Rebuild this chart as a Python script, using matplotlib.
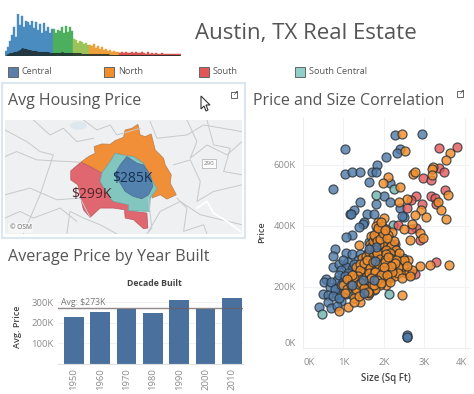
import matplotlib
matplotlib.use('Agg')
import matplotlib.pyplot as plt
from matplotlib.patches import Polygon, Rectangle, Ellipse
from matplotlib.transforms import ScaledTranslation

W, H = 474, 394
plt.rcParams['font.family'] = ['Open Sans', 'DejaVu Sans']

# colours
BLUE = '#4e79a7'
ORANGE = '#f28e2b'
RED = '#e15759'
TEAL = '#76b7b2'
GREY = '#555555'
TICK = '#8c8c8c'

# histogram on top (height of each bin, one colour per group)
hist_blue = [4, 8, 14, 20, 28, 18, 41, 30, 39, 28, 34, 33, 30, 34, 27, 33, 25, 31, 22, 32, 24, 28, 22, 26]
hist_green = [26, 22, 25, 24, 28, 22, 29, 23, 28, 24]
hist_lime = [16, 15, 12, 14, 13, 11, 12, 10]
hist_orange = [10, 9, 11, 7, 9, 6, 8, 5, 6, 4, 5, 3, 4, 3, 3]
hist_red = [2, 3, 2, 3, 2, 2, 3, 2, 3, 2, 2, 3, 2, 1, 3, 1, 2, 1, 2, 1, 1, 2, 1, 1, 1, 1, 1, 1, 1, 1, 1]
hist_dark = [1, 2, 3, 3, 4, 4, 5, 6, 8, 7, 7, 6, 6, 5, 5, 5, 4, 4, 4, 4, 4, 4, 3, 3,
             3, 3, 3, 3, 4, 3, 3, 3, 3, 3, 3, 3, 3, 3, 2, 2, 2, 2, 2, 2, 2, 2, 2, 2,
             2, 2, 2, 2, 1, 1, 1, 1, 1, 1, 1, 1, 1, 1, 1, 1, 1, 1, 1, 1, 1, 1, 1, 1,
             1, 1, 1, 1, 1, 1, 1, 1, 1, 1, 1, 1, 1, 1, 1, 1]

legend_names = ['Central', 'North', 'South', 'South Central']
legend_colors = ['#5b7fa8', '#f28e2b', '#e15759', '#8fcfc8']

# bars
decades = ['1950', '1960', '1970', '1980', '1990', '2000', '2010']
avg_price = [228, 251, 267, 248, 313, 267, 321]
avg_all = 273

# scatter, size in K sq ft and price in K
blue_x = [2.28, 2.94, 1.03, 2.41, 2.32, 2.05, 1.84, 1.03, 1.20, 1.41, 1.71, 1.81, 1.62, 0.74, 2.14, 2.0, 1.81, 2.15, 1.41,
          1.27, 1.15, 1.19, 1.59, 1.75, 2.39, 1.51, 1.48, 1.38, 2.51, 1.21, 1.06, 0.78, 1.07, 0.74, 1.2, 1.4, 0.74, 0.89,
          1.11, 1.07, 1.2, 1.36, 0.95, 1.11, 0.56, 0.51, 0.66, 0.84, 1.03, 0.92, 0.49, 0.62, 0.62, 0.84, 1.07, 0.95, 0.4, 0.7, 0.84,
          0.9, 0.98, 1.05, 0.7, 0.8, 0.95, 1.15, 0.75, 0.9, 1.0, 1.25, 1.3]
blue_y = [698, 700, 651, 652, 640, 626, 600, 570, 576, 576, 576, 576, 545, 521, 542, 498, 473, 480, 478,
          451, 440, 440, 440, 438, 460, 412, 408, 397, 431, 370, 363, 326, 313, 300, 307, 309, 266, 276,
          282, 266, 260, 287, 255, 246, 227, 216, 200, 222, 195, 189, 176, 173, 151, 173, 178, 154, 134, 132, 137,
          240, 215, 235, 215, 195, 205, 185, 170, 165, 290, 275, 250]
blue_top_x = [1.48, 1.5, 1.22, 1.77, 1.76, 1.81, 1.63, 2.58, 2.58, 2.45]
blue_top_y = [222, 181, 205, 285, 222, 331, 326, 42, 36, 432]
orange_x = [2.46, 2.53, 3.64, 3.54, 3.22, 3.18, 3.2, 2.72, 2.78, 2.11, 1.98, 2.41, 3.59, 3.35, 3.42, 3.53, 2.56, 2.37, 2.91,
            3.03, 2.78, 2.0, 1.85, 1.8, 1.91, 2.06, 2.2, 2.51, 2.7, 2.89, 2.98, 2.64, 1.67, 1.94, 1.38,
            1.65, 1.75, 1.85, 1.95, 2.05, 2.15, 2.25, 1.6, 1.7, 1.8, 1.9, 2.0, 2.1, 2.2, 2.35, 1.45, 1.55, 1.65, 1.75, 1.85,
            1.95, 2.05, 2.2, 2.3, 1.3, 1.4, 1.5, 1.6, 1.7, 1.9, 2.1, 2.25, 2.4, 1.15, 1.25, 1.35, 1.45, 1.55, 1.65, 1.8,
            1.95, 2.15, 2.6, 2.9, 3.15, 3.6, 2.45, 2.65, 2.55, 1.0, 1.1, 1.2, 1.3, 1.45, 1.6, 1.75, 1.4, 1.25, 1.12, 0.9, 1.25,
            1.55, 1.62, 1.68, 1.72, 1.78, 1.82, 1.88, 1.95, 1.98, 2.02, 2.1, 2.12, 2.18, 2.25, 2.3, 2.28, 2.38, 2.42, 2.48, 2.5,
            2.35, 2.2, 2.1, 2.0, 1.92, 1.85, 1.8, 1.72, 1.68, 1.6, 1.55, 1.5, 1.42, 1.35, 1.28, 1.2, 1.1, 1.05, 1.18, 1.3,
            1.38, 1.45, 1.52, 1.6, 1.68, 1.75, 1.85, 1.92, 2.0, 2.08, 2.18, 2.28, 2.35, 2.05, 1.9, 1.78, 1.62, 1.5, 1.38, 2.45,
            2.62, 2.7, 2.58, 2.65, 1.95, 2.05, 2.15, 1.88, 1.78, 1.65,
            1.5, 1.58, 1.66, 1.74, 1.82, 1.9, 1.98, 2.06, 2.14, 2.22, 2.3, 1.55, 1.63, 1.71, 1.79, 1.87, 1.95, 2.03, 2.11, 2.19, 2.27,
            1.62, 1.7, 1.78, 1.86, 1.94, 2.02, 2.1, 2.18, 1.75, 1.83, 1.91, 1.99, 2.07, 1.86, 1.94, 2.02,
            1.44, 1.52, 1.6, 1.68, 1.76, 1.84, 1.92, 2.0, 2.08, 2.16]
orange_y = [700, 647, 638, 615, 595, 587, 567, 570, 576, 562, 540, 527, 500, 478, 452, 423, 489, 478, 452,
            431, 436, 425, 414, 401, 392, 390, 381, 390, 405, 376, 362, 354, 368, 357, 338,
            340, 345, 335, 350, 325, 340, 330, 310, 318, 305, 325, 310, 300, 315, 295, 295, 285, 295, 280, 300,
            285, 270, 290, 270, 265, 275, 260, 270, 250, 265, 245, 260, 250, 225, 240, 230, 250, 220, 235, 215,
            235, 230, 290, 270, 272, 272, 175, 240, 245, 205, 195, 215, 180, 200, 175, 190, 150, 165, 135, 120, 150,
            300, 315, 330, 350, 365, 385, 375, 400, 365, 345, 370, 345, 335, 350, 320, 300, 310, 285, 270, 290,
            265, 255, 275, 295, 310, 285, 265, 300, 270, 255, 265, 245, 255, 235, 225, 240, 225, 180, 205, 195,
            210, 225, 205, 195, 215, 235, 245, 225, 250, 225, 235, 235, 245, 205, 205, 195, 180, 188, 172, 230,
            250, 255, 270, 235, 340, 320, 310, 340, 320, 290,
            278, 288, 262, 282, 312, 292, 278, 308, 296, 282, 290, 232, 245, 228, 252, 272, 258, 288, 262, 248, 278,
            222, 205, 248, 228, 238, 282, 298, 268, 372, 352, 358, 378, 362, 395, 412, 388,
            212, 198, 185, 228, 205, 222, 212, 265, 238, 218]
red_x = [3.37, 3.81, 2.97, 3.16, 3.36, 3.48, 3.5, 3.17, 3.26, 3.3, 2.79, 2.66, 2.94, 2.56, 2.8, 2.35, 2.66, 2.89, 3.3, 2.78, 2.27]
red_y = [655, 660, 558, 551, 589, 578, 518, 499, 493, 471, 499, 485, 472, 460, 392, 403, 390, 354, 282, 241, 342]
teal_x = [1.81, 2.24, 2.12, 0.46, 2.58, 1.63, 2.47, 1.2, 2.23]
teal_y = [500, 521, 177, 113, 35, 348, 296, 178, 403]

# map outlines, in map units
orange_shape_x = [242, 265, 285, 282, 305, 330, 345, 370, 375, 395, 413, 420, 435, 453, 465, 490, 495, 513, 510, 528, 500, 480, 455, 465, 450, 430, 400, 345, 330, 305, 270]
orange_shape_y = [232, 215, 205, 185, 177, 178, 167, 157, 135, 130, 118, 150, 155, 147, 195, 220, 240, 270, 295, 330, 343, 330, 340, 310, 275, 235, 215, 205, 230, 265, 245]
red_shape_x = [242, 270, 305, 300, 330, 340, 385, 385, 440, 443, 430, 400, 375, 373, 340, 300, 270, 250, 233, 212, 212]
red_shape_y = [232, 245, 265, 290, 340, 350, 360, 378, 385, 430, 432, 405, 400, 375, 370, 370, 398, 375, 300, 285, 258]
teal_shape_x = [345, 370, 400, 430, 450, 470, 450, 448, 385, 385, 340, 330, 300, 305, 330]
teal_shape_y = [205, 212, 215, 235, 275, 312, 340, 380, 378, 360, 350, 340, 290, 265, 230]
blue_shape_x = [360, 380, 395, 410, 430, 450, 458, 445, 425, 400, 375, 360, 343]
blue_shape_y = [240, 215, 225, 235, 240, 270, 305, 330, 342, 335, 320, 295, 270]
map_roads = [
    ([15, 80, 120, 160, 120, 70], [135, 170, 200, 210, 330, 448]),
    ([450, 470, 560, 610, 725], [110, 160, 150, 120, 140]),
    ([520, 570, 600, 590, 640, 725], [240, 225, 290, 350, 320, 300]),
    ([15, 90, 170, 240, 270], [330, 310, 345, 340, 398]),
    ([445, 480, 540, 600, 725], [440, 380, 350, 390, 420]),
    ([15, 50, 110, 240], [215, 200, 225, 232]),
    ([200, 210, 250, 300, 350], [448, 380, 400, 420, 448]),
    ([560, 590, 570, 620, 680, 725], [105, 170, 220, 180, 210, 170]),
    ([250, 290, 330, 350, 420], [105, 135, 120, 150, 130]),
    ([15, 60, 100, 180, 230], [400, 380, 400, 370, 410]),
    ([620, 640, 690, 670, 725], [105, 180, 190, 260, 270]),
    ([530, 560, 550, 610, 620], [340, 370, 440, 420, 448]),
    ([100, 150, 190, 230, 280], [105, 150, 130, 170, 160]),
    ([445, 450, 455, 440], [340, 390, 430, 448]),
]
river_x = [590, 620, 640, 680, 720]
river_y = [370, 350, 385, 410, 440]


def px_axes(x0, y0, x1, y1):
    return fig.add_axes([x0 / W, 1 - y1 / H, (x1 - x0) / W, (y1 - y0) / H])


def px_text(x, y, s, **kw):
    kw.setdefault('va', 'center')
    return fig.text(x / W, 1 - y / H, s, **kw)


fig = plt.figure(figsize=(W / 100, H / 100), dpi=100, facecolor='white')

# --- histogram
ax = px_axes(5, 14, 181, 55.5)
groups = [(hist_blue, '#4a8cc0'), (hist_green, '#4caf5e'), (hist_lime, '#9cc25a'), (hist_orange, '#eda13c'), (hist_red, '#d9534f')]
i = 0
for vals, col in groups:
    ax.bar(range(i, i + len(vals)), vals, width=1.0, color=col, edgecolor=col, lw=0.3, align='edge')
    i += len(vals)
ax.fill_between([k + 0.5 for k in range(len(hist_dark))], hist_dark, color='#1c2a2a', alpha=0.85, lw=0)
ax.set_xlim(0, 88)
ax.set_ylim(0, 41)
ax.axis('off')

px_text(195, 33, 'Austin, TX Real Estate', fontsize=16, color=GREY)

# --- legend
for x, name, col in zip([8, 104, 199, 295], legend_names, legend_colors):
    fig.add_artist(Rectangle((x / W, 1 - 77 / H), 10 / W, 10 / H, transform=fig.transFigure,
                             facecolor=col, edgecolor='#666666', lw=0.7))
    px_text(x + 14, 72, name, fontsize=6.6, color=GREY)

# panel frame
fig.add_artist(Rectangle((2 / W, 1 - 238 / H), 243 / W, 155 / H, transform=fig.transFigure,
                         facecolor='none', edgecolor='#dbe6ee', lw=1.5))

# --- map
px_text(8, 101, 'Avg Housing Price', fontsize=11.5, color=GREY)
ax = px_axes(5, 120, 242, 234)
ax.set_facecolor('#eef0f1')
ax.add_patch(Ellipse((235, 122), 50, 25, facecolor='#dde7ee', edgecolor='none'))
for rx, ry in map_roads:
    ax.plot(rx, ry, color='#c6cacc', lw=0.7)
ax.plot(river_x, river_y, color='white', lw=1.3)
ax.add_patch(Polygon(list(zip(orange_shape_x, orange_shape_y)), facecolor='#f08f37', edgecolor='#b97f52', lw=0.5))
ax.add_patch(Polygon(list(zip(red_shape_x, red_shape_y)), facecolor='#e0666f', edgecolor='#b85a64', lw=0.5))
ax.add_patch(Polygon(list(zip(teal_shape_x, teal_shape_y)), facecolor='#82c6bf', edgecolor='#69a9a5', lw=0.5))
ax.add_patch(Polygon(list(zip(blue_shape_x, blue_shape_y)), facecolor='#5282ad', edgecolor='#4a6f94', lw=0.5))
ax.text(397, 280, '$285K', fontsize=10, color='#16304f', ha='center', va='center')
ax.text(275, 330, '$299K', fontsize=10, color='#52262e', ha='center', va='center')
ax.text(625, 236, '290', fontsize=4.5, color='#777777', ha='center', va='center',
        bbox=dict(facecolor='white', edgecolor='#aaaaaa', lw=0.5, pad=1.2))
ax.text(62, 429, '© OSM', fontsize=4.8, color='#666666', ha='center', va='center',
        bbox=dict(facecolor='#f6f6f6', edgecolor='none', pad=1.2))
ax.set_xlim(15, 725)
ax.set_ylim(448, 105)
ax.set_xticks([])
ax.set_yticks([])
for s in ax.spines.values():
    s.set_visible(False)

# --- bars
px_text(8, 257, 'Average Price by Year Built', fontsize=11.6, color=GREY)
ax = px_axes(58, 296, 243, 364)
ax.bar(range(len(decades)), avg_price, width=0.74, color='#4a719e')
ax.axhline(avg_all, color='#6e5f62', lw=1.0, alpha=0.75)
ax.text(-0.5, avg_all + 5, 'Avg: $273K', fontsize=6.3, color='#777777', va='bottom', ha='left')
ax.set_xlim(-0.6, 6.42)
ax.set_ylim(0, 330)
ax.set_xticks(range(len(decades)))
ax.set_xticklabels(decades, rotation=90, fontsize=6.8, color=TICK)
ax.set_yticks([100, 200, 300])
ax.set_yticklabels(['100K', '200K', '300K'], fontsize=6.8, color=TICK)
ax.tick_params(length=0, pad=3)
ax.grid(axis='y', color='#f0f0f0', lw=0.7)
ax.set_axisbelow(True)
for s in ['top', 'right', 'left']:
    ax.spines[s].set_visible(False)
ax.spines['bottom'].set_color('#e0e0e0')
px_text(154, 284, 'Decade Built', fontsize=6.3, color='#444444', ha='center', fontweight='bold')
px_text(18, 327, 'Avg. Price', fontsize=6.5, color='#444444', ha='center', rotation=90, fontweight='semibold')

# --- scatter
px_text(253, 101, 'Price and Size Correlation', fontsize=11.5, color=GREY)
ax = px_axes(303, 118, 470, 348)
kw = dict(s=42, edgecolor='#2a3238', linewidth=0.9, clip_on=False)
ax.scatter(blue_x, blue_y, color=BLUE, alpha=0.8, **kw)
ax.scatter(teal_x, teal_y, color=TEAL, alpha=0.85, **kw)
ax.scatter(red_x, red_y, color=RED, alpha=0.8, **kw)
ax.scatter(orange_x, orange_y, color=ORANGE, alpha=0.82, **kw)
ax.scatter(blue_top_x, blue_top_y, color=BLUE, alpha=0.8, **kw)
ax.set_xlim(0, 4.13)
ax.set_ylim(0, 754)
ax.set_xticks([0, 1, 2, 3, 4])
xlabs = ax.set_xticklabels(['0K', '1K', '2K', '3K', '4K'], fontsize=6.8, color=TICK)
ax.set_yticks([0, 200, 400, 600])
ylabs = ax.set_yticklabels(['0K', '200K', '400K', '600K'], fontsize=6.8, color=TICK)
ax.tick_params(length=0, pad=5)
ax.tick_params(axis='x', pad=7)
ax.grid(color='#f1f2f5', lw=0.8)
ax.set_axisbelow(True)
xlabs[0].set_ha('left')
xlabs[4].set_transform(xlabs[4].get_transform() + ScaledTranslation(-3.5 / 100, 0, fig.dpi_scale_trans))
ylabs[0].set_va('bottom')
for s in ['top', 'right']:
    ax.spines[s].set_visible(False)
ax.spines['left'].set_color('#eeeeee')
ax.spines['bottom'].set_color('#eeeeee')
px_text(386, 378, 'Size (Sq Ft)', fontsize=7, color='#444444', ha='center', fontweight='semibold')
px_text(262, 232, 'Price', fontsize=6.5, color='#444444', ha='center', rotation=90, fontweight='semibold')

# small expand icons and the mouse pointer
for x, y in [(234, 95), (460, 94)]:
    fig.add_artist(Rectangle(((x - 3) / W, 1 - (y + 3) / H), 6 / W, 6 / H, transform=fig.transFigure,
                             facecolor='white', edgecolor='#666666', lw=0.7))
    px_text(x + 2, y - 2, '↗', fontsize=5, color='#555555', ha='center')
cursor_x = [201, 201, 204, 206, 208, 206, 210]
cursor_y = [96, 109, 106, 111, 110, 105, 105]
fig.add_artist(Polygon([(a / W, 1 - b / H) for a, b in zip(cursor_x, cursor_y)], transform=fig.transFigure,
                       facecolor='white', edgecolor='#333333', lw=0.8))

fig.savefig('out.png', dpi=100)
